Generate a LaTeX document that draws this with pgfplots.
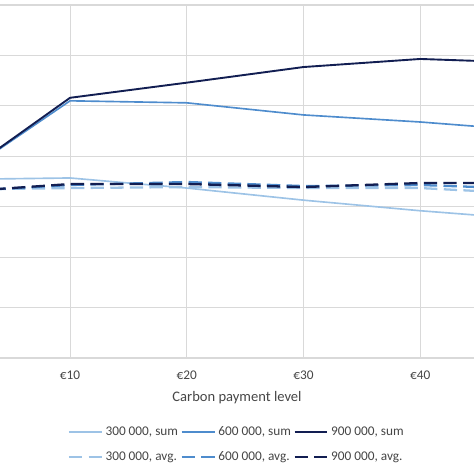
\documentclass[border=0pt]{standalone}
\usepackage{pgfplots}
\pgfplotsset{compat=1.18}
\usepackage{fontspec}
\setmainfont{Carlito}
\definecolor{lightb}{RGB}{157,195,230}
\definecolor{midb}{RGB}{78,140,205}
\definecolor{darkb}{RGB}{18,30,82}
\definecolor{txt}{RGB}{70,70,70}
\definecolor{grd}{RGB}{217,217,217}
\begin{document}
\begin{tikzpicture}
\useasboundingbox (0pt,-91.64pt) rectangle (374.46pt,282.82pt);
\begin{axis}[
  at={(0pt,0pt)}, anchor=south west,
  scale only axis, width=374.46pt, height=278.87pt,
  xmin=4, xmax=44.6, ymin=0, ymax=7,
  xtick={10,20,30,40},
  xticklabels={€10,€20,€30,€40},
  ytick={0,1,...,7}, yticklabels={},
  xmajorgrids, ymajorgrids,
  grid style={grd, line width=0.8pt},
  axis line style={draw=none},
  major tick length=0pt,
  tick label style={font=\fontsize{10.5}{12}\selectfont, text=txt},
  xticklabel style={yshift=-7pt},
  xlabel={Carbon payment level},
  xlabel style={font=\fontsize{11.5}{13}\selectfont, text=txt, yshift=-2pt},
  legend columns=3,
  legend style={at={(0.5,-0.18)}, anchor=north, draw=none, fill=none,
    font=\fontsize{10.5}{12}\selectfont, text=txt,
    /tikz/every odd column/.append style={column sep=0pt},
    row sep=7pt},
  legend image code/.code={\draw[#1] (0pt,0pt) -- (26pt,0pt);},
  legend cell align=left,
  clip=true,
]
\addplot[lightb, line width=1.3pt] coordinates {(0,3.54) (10,3.57) (20,3.37) (30,3.13) (40,2.92) (50,2.74)};
\addlegendentry{300 000, sum}
\addplot[midb, line width=1.3pt] coordinates {(0,3.52) (10,5.10) (20,5.06) (30,4.82) (40,4.68) (50,4.50)};
\addlegendentry{600 000, sum}
\addplot[darkb, line width=1.5pt] coordinates {(0,3.51) (10,5.16) (20,5.46) (30,5.77) (40,5.93) (50,5.85)};
\addlegendentry{900 000, sum}
\addplot[lightb, line width=1.8pt, dash pattern=on 10.5pt off 5pt] coordinates {(0,3.34) (10,3.37) (20,3.39) (30,3.37) (40,3.37) (50,3.25)};
\addlegendentry{300 000, avg.}
\addplot[midb, line width=1.8pt, dash pattern=on 10.5pt off 5pt] coordinates {(0,3.30) (10,3.43) (20,3.49) (30,3.41) (40,3.43) (50,3.35)};
\addlegendentry{600 000, avg.}
\addplot[darkb, line width=1.8pt, dash pattern=on 10.5pt off 5pt] coordinates {(0,3.29) (10,3.45) (20,3.45) (30,3.39) (40,3.47) (50,3.47)};
\addlegendentry{900 000, avg.}
\end{axis}
\end{tikzpicture}
\end{document}
